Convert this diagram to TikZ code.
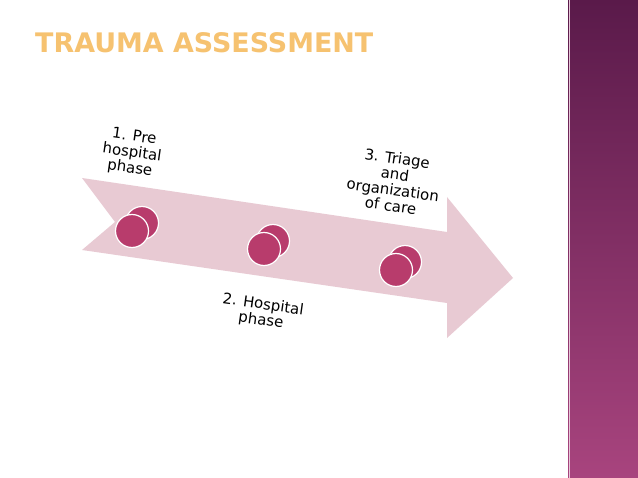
\documentclass[tikz,border=0pt]{standalone}
\usepackage{fontspec}
\setmainfont{DejaVu Sans}
\usetikzlibrary{positioning}
\definecolor{arrowpink}{HTML}{E8CAD3}
\definecolor{dotred}{HTML}{B83C6C}
\definecolor{titleorange}{HTML}{F6C270}
\definecolor{bandtop}{HTML}{5A1A4A}
\definecolor{bandbot}{HTML}{A8447E}
\tikzset{
  dot/.style={circle, draw=white, line width=1.2pt, fill=dotred, minimum size=33bp, inner sep=0pt},
  phase/.style={align=center, rotate=-8, font=\fontsize{15}{16}\selectfont, inner sep=1pt},
}
\begin{document}
\begin{tikzpicture}[x=1bp, y=-1bp]
  \useasboundingbox (0,0) rectangle (638,478);
  \fill[white] (0,0) rectangle (638,478);
  % side band
  \shade[top color=bandtop, bottom color=bandbot] (568,0) rectangle (638,478);
  \draw[white!70!bandbot, line width=0.6pt] (569,0) -- (569,478);
  % title
  \node[text=titleorange, font=\fontsize{27}{27}\bfseries\selectfont, anchor=west, inner sep=0pt] (title) at (35,43) {TRAUMA ASSESSMENT};
  % arrow
  \fill[arrowpink] (82,178) -- (447,232) -- (447,197) -- (513,278) -- (447,338)
        -- (447,303) -- (82,250) -- (115,222) -- cycle;
  \node[dot] (back1) at (142,223) {};
  \node[dot] (front1) at (132,231) {};
  \node[dot] (back2) at (273,241) {};
  \node[dot] (front2) at (264,249) {};
  \node[dot] (back3) at (405,262) {};
  \node[dot] (front3) at (396,270) {};
  \node[phase] (pre) at (132,153) {1. Pre\\hospital\\phase};
  \node[phase] (hosp) at (262,313) {2. Hospital\\phase};
  \node[phase] (triage) at (394,182) {3. Triage\\and\\organization\\of care};
\end{tikzpicture}
\end{document}
